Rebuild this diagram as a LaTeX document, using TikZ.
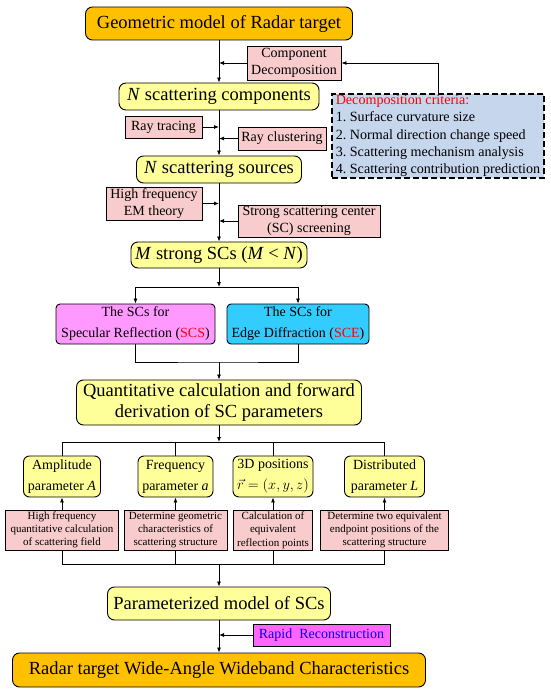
\documentclass[tikz,border=0pt]{standalone}
\usepackage{fontspec}
\setmainfont{Liberation Serif}
\usetikzlibrary{arrows.meta,positioning,calc}
\definecolor{boxorange}{RGB}{255,192,0}
\definecolor{boxyellow}{RGB}{255,255,153}
\definecolor{boxpink}{RGB}{248,204,204}
\definecolor{boxblue}{RGB}{198,214,236}
\definecolor{boxmagenta}{RGB}{255,153,255}
\definecolor{boxcyan}{RGB}{51,204,255}
\definecolor{boxrapid}{RGB}{255,102,255}
\newcommand{\bigsize}{\fontsize{18.5}{21.5}\selectfont}
\newcommand{\midsize}{\fontsize{14}{16.8}\selectfont}
\newcommand{\widesize}{\fontsize{14}{21}\selectfont}
\newcommand{\smallsize}{\fontsize{11}{13.3}\selectfont}
\tikzset{
  basebox/.style={draw,line width=0.9pt,inner sep=0pt,align=center,text=black},
  stagebox/.style={basebox,rounded corners=7pt,fill=boxyellow,font=\bigsize},
  endbox/.style={stagebox,fill=boxorange},
  toolbox/.style={basebox,fill=boxpink,font=\midsize},
  methodbox/.style={basebox,fill=boxpink,font=\smallsize},
  parambox/.style={basebox,rounded corners=6pt,fill=boxyellow,font=\widesize},
  kindbox/.style={basebox,rounded corners=4pt,font=\widesize},
  critbox/.style={draw,line width=1.5pt,dash pattern=on 6pt off 3pt,fill=boxblue,
    align=left,inner xsep=3pt,inner ysep=0pt,font=\fontsize{14.1}{17.3}\selectfont},
  linkline/.style={line width=0.8pt},
  arrowline/.style={linkline,-{Latex[length=5pt,width=4pt]}}
}
\begin{document}
\frenchspacing
\begin{tikzpicture}[x=1pt,y=-1pt]
\useasboundingbox (0,0) rectangle (550,692);
% main chain
\node[endbox,minimum width=267pt,minimum height=33pt] (geom) at (219,23.5) {Geometric model of Radar target};
\node[toolbox,minimum width=94pt,minimum height=34pt] (decomp) at (294,63) {Component\\Decomposition};
\node[stagebox,minimum width=200pt,minimum height=27pt] (ncomp) at (219,96.5) {\textit{N} scattering components};
\node[critbox,minimum width=212pt,minimum height=84pt] (crit) at (438,136) {\textcolor{red}{Decomposition criteria:}\\1. Surface curvature size\\2. Normal direction change speed\\3. Scattering mechanism analysis\\4. Scattering contribution prediction};
\node[toolbox,minimum width=77pt,minimum height=22pt] (trace) at (163.5,127) {Ray tracing};
\node[toolbox,minimum width=88pt,minimum height=23pt] (cluster) at (282,138.5) {Ray clustering};
\node[stagebox,minimum width=165pt,minimum height=27pt] (nsrc) at (219,169.5) {\textit{N} scattering sources};
\node[toolbox,minimum width=96pt,minimum height=33pt] (hfem) at (154,203.5) {High frequency\\EM theory};
\node[toolbox,minimum width=142pt,minimum height=32pt] (screen) at (309,221) {Strong scattering center\\(SC) screening};
\node[stagebox,minimum width=176pt,minimum height=26pt] (msc) at (219,255) {\textit{M} strong SCs (\textit{M} < \textit{N})};
% two kinds of SCs
\node[kindbox,fill=boxmagenta,minimum width=159pt,minimum height=40pt] (scs) at (135.5,324) {The SCs for\\Specular Reflection (\textcolor{red}{SCS})};
\node[kindbox,fill=boxcyan,minimum width=142pt,minimum height=40pt] (sce) at (298,324) {The SCs for\\Edge Diffraction (\textcolor{red}{SCE})};
\node[stagebox,minimum width=285pt,minimum height=45pt] (quant) at (219,402.5) {Quantitative calculation and forward\\derivation of SC parameters};
% parameters
\node[parambox,minimum width=77pt,minimum height=41pt] (amp) at (62,476.5) {Amplitude\\parameter \textit{A}};
\node[parambox,minimum width=75pt,minimum height=41pt] (freq) at (175.5,476.5) {Frequency\\parameter \textit{a}};
\node[parambox,minimum width=80pt,minimum height=41pt] (pos) at (273,476.5) {3D positions\\$\vec{r}=(x,y,z)$};
\node[parambox,minimum width=80pt,minimum height=41pt] (dist) at (384.5,476.5) {Distributed\\parameter \textit{L}};
\node[methodbox,minimum width=113pt,minimum height=40pt] (ampm) at (62,530) {High frequency\\quantitative calculation\\of scattering field};
\node[methodbox,minimum width=103pt,minimum height=40pt] (freqm) at (175.5,530) {Determine geometric\\characteristics of\\scattering structure};
\node[methodbox,minimum width=79pt,minimum height=40pt] (posm) at (273,530) {Calculation of\\equivalent\\reflection points};
\node[methodbox,minimum width=128pt,minimum height=40pt] (distm) at (384.5,530) {Determine two equivalent\\endpoint positions of the\\scattering structure};
\node[stagebox,minimum width=223pt,minimum height=33pt] (pmodel) at (219,603.5) {Parameterized model of SCs};
\node[basebox,fill=boxrapid,text=blue,font=\midsize,minimum width=137pt,minimum height=22pt] (rapid) at (321.5,635) {Rapid\ \ Reconstruction};
\node[endbox,minimum width=413pt,minimum height=34pt] (final) at (219,670) {Radar target Wide-Angle Wideband Characteristics};
\coordinate (split1) at (219,287);
\coordinate (join1) at (219,362);
\coordinate (split2) at (219,442);
\coordinate (join2) at (219,564);
% connectors
\draw[arrowline] (geom) -- (ncomp);
\draw[arrowline] (decomp.west) -- (decomp.west -| geom.south);
\draw[arrowline] (crit.north) |- (decomp.east);
\draw[arrowline] (ncomp) -- (nsrc);
\draw[arrowline] (trace.east) -- (trace.east -| ncomp.south);
\draw[arrowline] (cluster.west) -- (cluster.west -| ncomp.south);
\draw[arrowline] (nsrc) -- (msc);
\draw[arrowline] (hfem.east) -- (hfem.east -| nsrc.south);
\draw[arrowline] (screen.west) -- (screen.west -| nsrc.south);
\draw[arrowline] (msc) -- (split1);
\draw[arrowline] (split1) -| (scs.north);
\draw[arrowline] (split1) -| (sce.north);
\draw[linkline] (scs.south) |- (join1) -| (sce.south);
\draw[arrowline] (join1) -- (quant);
\draw[arrowline] (quant) -- (split2);
\foreach \p/\m in {amp/ampm,freq/freqm,pos/posm,dist/distm}{
  \draw[linkline] (split2) -| (\p.north);
  \draw[arrowline] (\m) -- (\p);
  \draw[linkline] (\m.south) |- (join2);
}
\draw[arrowline] (join2) -- (pmodel);
\draw[arrowline] (pmodel) -- (final);
\draw[arrowline] (rapid.west) -- (rapid.west -| pmodel.south);
\end{tikzpicture}
\end{document}
